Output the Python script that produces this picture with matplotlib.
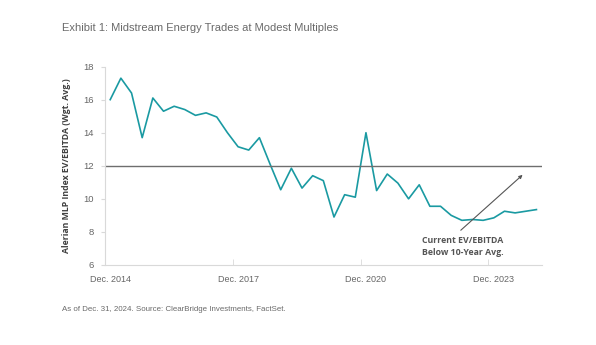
import matplotlib.pyplot as plt

plt.rcParams['font.family'] = ['Liberation Sans', 'DejaVu Sans']

# quarterly EV/EBITDA, Dec 2014 .. Dec 2024
ev_ebitda = [16.0, 17.3, 16.4, 13.7, 16.1, 15.3, 15.6, 15.4, 15.05, 15.2,
             14.95, 14.0, 13.15, 12.95, 13.7, 12.1, 10.55, 11.85, 10.65, 11.4,
             11.1, 8.9, 10.25, 10.1, 14.0, 10.5, 11.5, 10.95, 10.0, 10.85,
             9.55, 9.55, 9.0, 8.7, 8.75, 8.7, 8.85, 9.25, 9.15, 9.25, 9.35]
ten_year_avg = 12
tick_labels = ["Dec. 2014", "Dec. 2017", "Dec. 2020", "Dec. 2023"]
tick_pos = [0, 12, 24, 36]

fig = plt.figure(figsize=(5.96, 3.45), dpi=100)
ax = fig.add_axes([0.176, 0.232, 0.733, 0.575])

x = list(range(len(ev_ebitda)))
ax.plot(x, ev_ebitda, color="#1a9aa2", lw=1.2)
ax.axhline(ten_year_avg, color="#6e6e6e", lw=1.0)

ax.set_xlim(-0.5, len(ev_ebitda) - 0.5)
ax.set_ylim(6, 18)
ax.set_yticks(range(6, 19, 2))
ax.set_xticks(tick_pos)
ax.set_xticklabels(tick_labels)
ax.set_xticks([p - 0.5 for p in tick_pos], minor=True)
ax.tick_params(axis="x", which="major", length=0, pad=7, labelsize=6.5, colors="#666666")
ax.tick_params(axis="x", which="minor", length=4, color="#d9d9d9", direction="in")
ax.tick_params(axis="y", length=3, color="#d9d9d9", labelsize=6.8, colors="#666666", pad=5)
for s in ["top", "right"]:
    ax.spines[s].set_visible(False)
for s in ["left", "bottom"]:
    ax.spines[s].set_color("#d9d9d9")
    ax.spines[s].set_linewidth(0.8)

ax.set_ylabel("Alerian MLP Index EV/EBITDA (Wgt. Avg.)", fontsize=6.3, fontweight="bold",
              color="#404040", family=["Open Sans", "DejaVu Sans"], labelpad=9)

ax.annotate("", xy=(38.7, 11.45), xytext=(32.9, 8.1),
            arrowprops=dict(arrowstyle="-|>", color="#555555", lw=0.8,
                            mutation_scale=5, shrinkA=0, shrinkB=0))
ax.text(29.3, 7.75, "Current EV/EBITDA\nBelow 10-Year Avg.", fontsize=6.3,
        fontweight="bold", color="#555555", va="top", ha="left",
        family=["Open Sans", "DejaVu Sans"], linespacing=1.45)

fig.text(0.104, 0.918, "Exhibit 1: Midstream Energy Trades at Modest Multiples",
         fontsize=8, color="#6a6a6a", va="center")
fig.text(0.104, 0.104, "As of Dec. 31, 2024. Source: ClearBridge Investments, FactSet.",
         fontsize=5.7, color="#6a6a6a", va="center")

fig.savefig("out.png", dpi=100)
